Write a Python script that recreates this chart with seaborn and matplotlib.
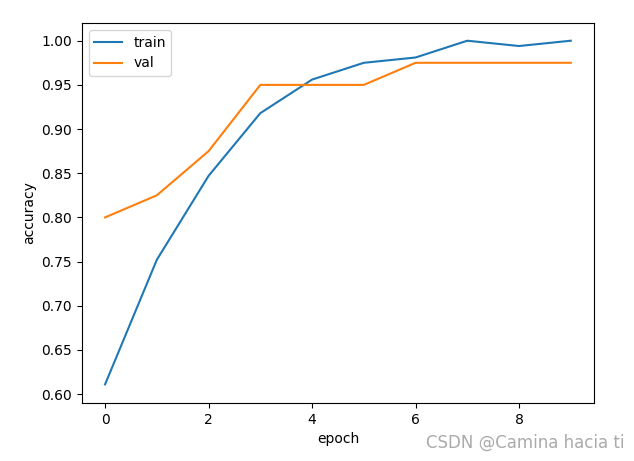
import numpy as np
import pandas as pd
import matplotlib
matplotlib.use("Agg")
import matplotlib.pyplot as plt
import seaborn as sns

# accuracy per epoch
epochs = list(range(10))
train_acc = [0.611, 0.752, 0.847, 0.918, 0.956, 0.975, 0.981, 1.000, 0.994, 1.000]
val_acc = [0.800, 0.825, 0.875, 0.950, 0.950, 0.950, 0.975, 0.975, 0.975, 0.975]

df = pd.DataFrame({
    "epoch": epochs * 2,
    "accuracy": train_acc + val_acc,
    "set": ["train"] * len(epochs) + ["val"] * len(epochs),
})

fig = plt.figure(figsize=(6.34, 4.61), dpi=100)
ax = fig.add_axes([0.129, 0.126, 0.808, 0.824])
sns.lineplot(data=df, x="epoch", y="accuracy", hue="set",
             palette=["#1f77b4", "#ff7f0e"], ax=ax, linewidth=1.5)
ax.set_ylim(0.59, 1.02)
ax.set_xlim(-0.45, 9.45)
ax.set_xticks([0, 2, 4, 6, 8])
ax.set_yticks(np.arange(0.60, 1.001, 0.05))
ax.set_yticklabels([f"{v:.2f}" for v in np.arange(0.60, 1.001, 0.05)])
ax.legend(title=None, loc="upper left")

fig.text(0.985, 0.02, "CSDN @Camina hacia ti", color="#aaaaaa",
         fontsize=12, ha="right", va="bottom")

fig.savefig("out.png", dpi=100)
